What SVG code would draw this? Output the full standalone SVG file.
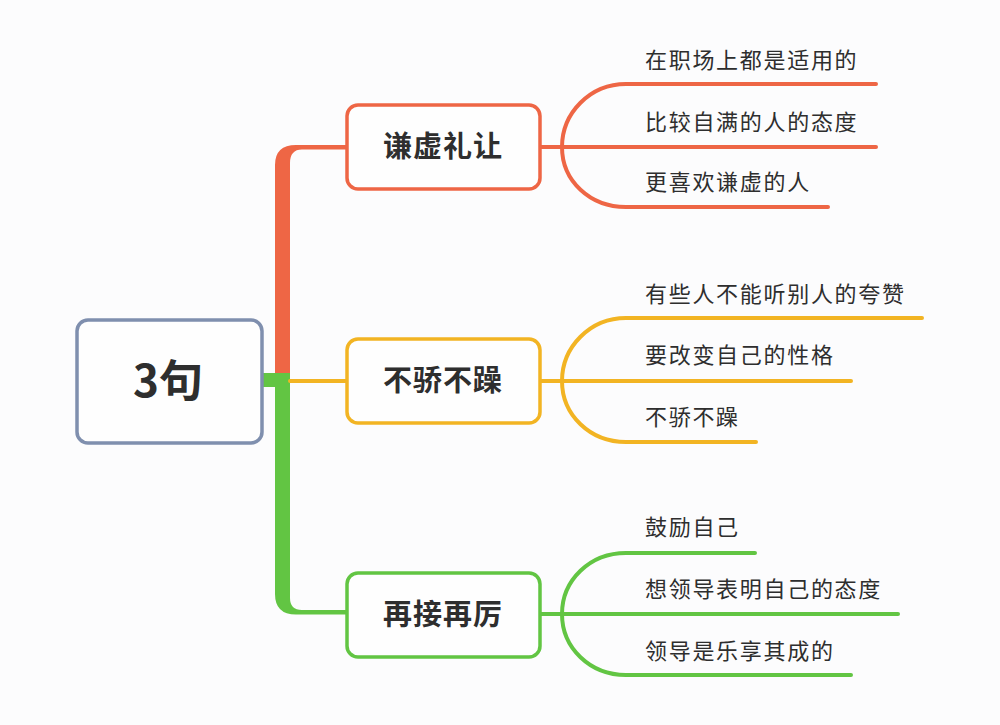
<svg xmlns="http://www.w3.org/2000/svg" width="1000" height="725" viewBox="0 0 1000 725">
<style>
.bg{fill:#fcfcfd}
.node{fill:#fefefe;stroke-width:3.5}
.root{stroke:#7f8fae}
.red{stroke:#ee6645}
.org{stroke:#f2b423}
.grn{stroke:#62c543}
.ln{fill:none;stroke-width:4;stroke-linecap:round}
.t{font-family:"Noto Sans CJK SC","Noto Sans",sans-serif;fill:#2e2e2e}
.rt{font-size:44px;font-weight:bold}
.bt{font-size:29px;font-weight:bold;letter-spacing:1px}
.lt{font-size:22px;letter-spacing:1.7px}
</style>
<rect class="bg" x="0" y="0" width="1000" height="725"/>
<g id="connectors">
  <path d="M275 373 L275 165 Q275 145 296 145 L347 145 L347 149.5 L302 149.5 Q290 149.5 290 163 L290 373 Z" fill="#ee6645"/>
  <path d="M262 373 L290 373 L290 598 Q290 610 302 610 L347 610 L347 614.5 L296 614.5 Q275 614.5 275 594 L275 387 L262 387 Z" fill="#62c543"/>
  <path class="ln org" d="M290 381 L347 381" stroke-width="3.5"/>
  <g class="red">
    <path class="ln" d="M540 147 L562 147 M562 147 C562 113 590 84 626 84 L876 84"/>
    <path class="ln" d="M562 147 L876 147"/>
    <path class="ln" d="M562 147 C562 181 590 207 626 207 L828 207"/>
  </g>
  <g class="org">
    <path class="ln" d="M540 381 L562 381 M562 381 C562 347 590 318 626 318 L922 318"/>
    <path class="ln" d="M562 381 L851 381"/>
    <path class="ln" d="M562 381 C562 415 590 442 626 442 L756 442"/>
  </g>
  <g class="grn">
    <path class="ln" d="M540 614 L562 614 M562 614 C562 580 590 553 626 553 L755 553"/>
    <path class="ln" d="M562 614 L898 614"/>
    <path class="ln" d="M562 614 C562 648 590 675 626 675 L851 675"/>
  </g>
</g>
<g id="root">
  <rect class="node root" x="77" y="320" width="185" height="123" rx="11"/>
  <text class="t rt" x="168" y="378" text-anchor="middle" dominant-baseline="central">3句</text>
</g>
<g id="n1">
  <rect class="node red" x="347" y="105" width="193" height="84" rx="11"/>
  <text class="t bt" x="443" y="144" text-anchor="middle" dominant-baseline="central">谦虚礼让</text>
</g>
<g id="n2">
  <rect class="node org" x="347" y="339" width="193" height="84" rx="11"/>
  <text class="t bt" x="443" y="378" text-anchor="middle" dominant-baseline="central">不骄不躁</text>
</g>
<g id="n3">
  <rect class="node grn" x="347" y="573" width="193" height="84" rx="11"/>
  <text class="t bt" x="443" y="612" text-anchor="middle" dominant-baseline="central">再接再厉</text>
</g>
<g id="l1"><text class="t lt" x="645" y="58" dominant-baseline="central">在职场上都是适用的</text></g>
<g id="l2"><text class="t lt" x="645" y="120" dominant-baseline="central">比较自满的人的态度</text></g>
<g id="l3"><text class="t lt" x="645" y="180" dominant-baseline="central">更喜欢谦虚的人</text></g>
<g id="l4"><text class="t lt" x="645" y="292" dominant-baseline="central">有些人不能听别人的夸赞</text></g>
<g id="l5"><text class="t lt" x="645" y="353" dominant-baseline="central">要改变自己的性格</text></g>
<g id="l6"><text class="t lt" x="645" y="415" dominant-baseline="central">不骄不躁</text></g>
<g id="l7"><text class="t lt" x="645" y="525" dominant-baseline="central">鼓励自己</text></g>
<g id="l8"><text class="t lt" x="645" y="587" dominant-baseline="central">想领导表明自己的态度</text></g>
<g id="l9"><text class="t lt" x="645" y="649" dominant-baseline="central">领导是乐享其成的</text></g>
</svg>
